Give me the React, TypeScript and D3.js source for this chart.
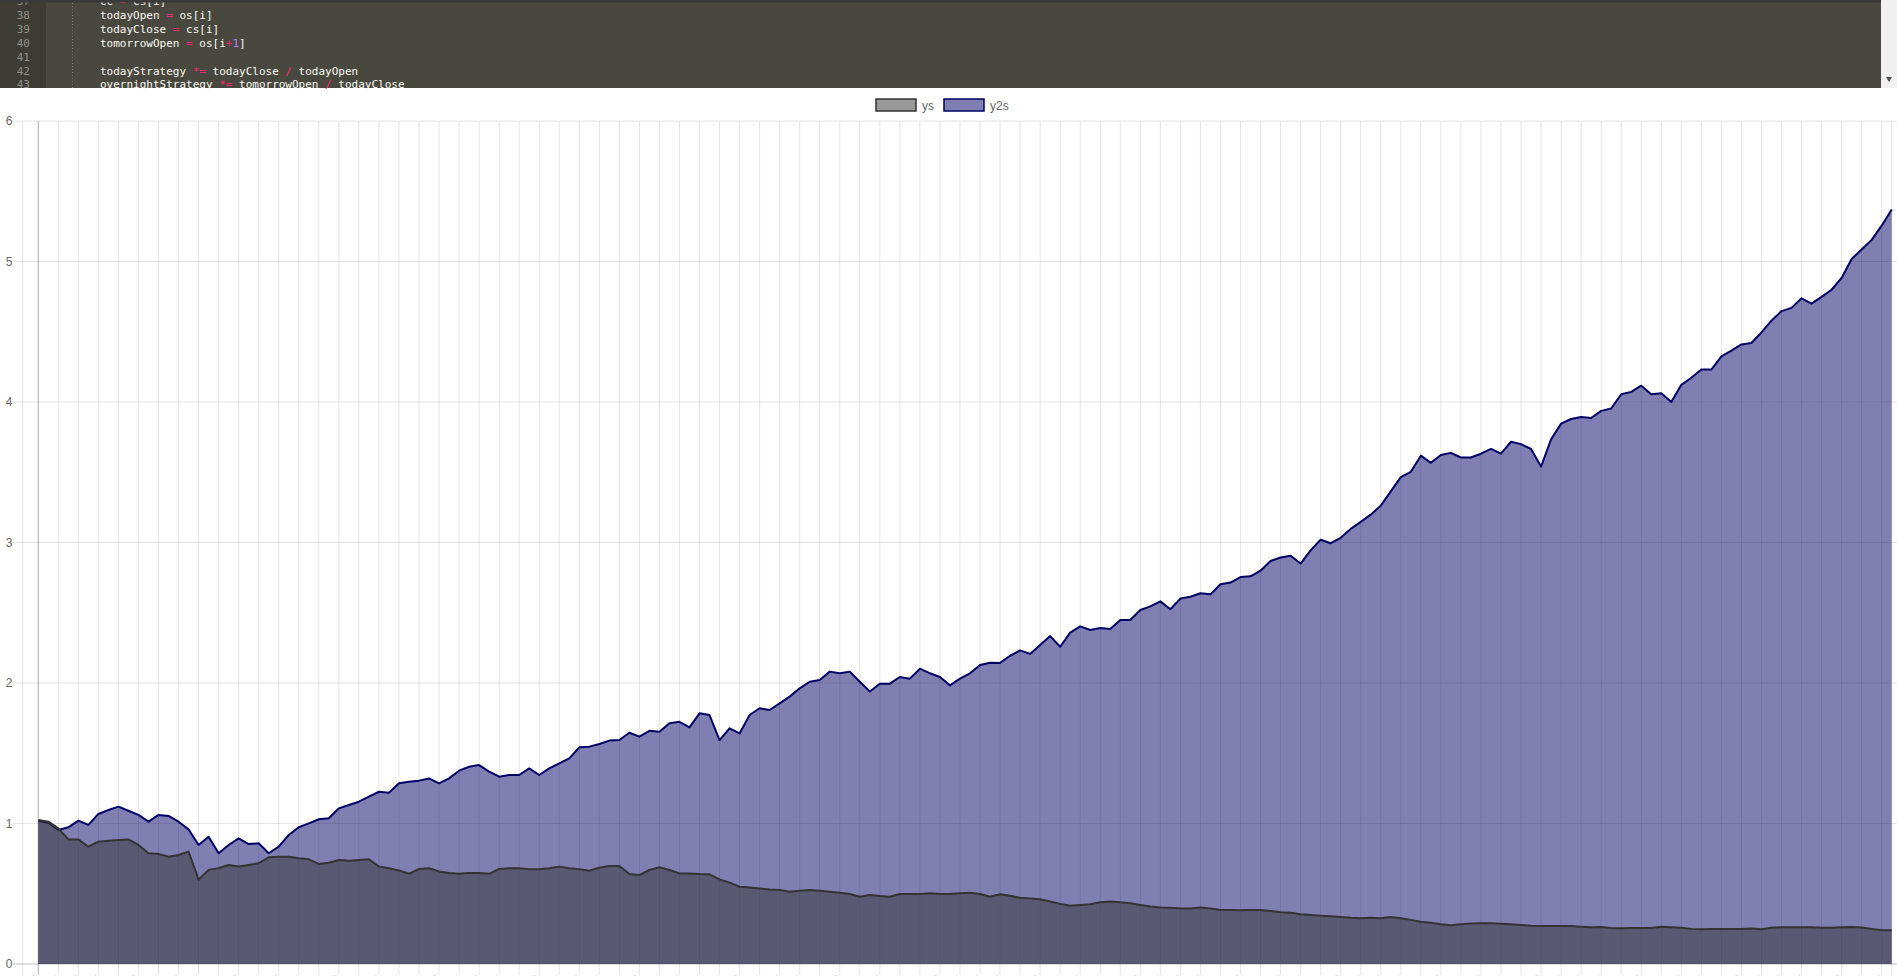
import * as d3 from 'd3';

// sampled values, roughly every 10px along the x axis
const y2sValues = [
  1.020, 1.006, 0.954, 0.973, 1.020, 0.990, 1.068, 1.096, 1.120, 1.091,
  1.061, 1.013, 1.061, 1.054, 1.013, 0.958, 0.847, 0.906, 0.788, 0.847,
  0.894, 0.854, 0.859, 0.788, 0.835, 0.918, 0.973, 1.001, 1.030, 1.037,
  1.108, 1.132, 1.155, 1.191, 1.226, 1.219, 1.286, 1.297, 1.305, 1.321,
  1.286, 1.321, 1.376, 1.404, 1.416, 1.369, 1.333, 1.345,
  1.345, 1.392, 1.345, 1.392, 1.428, 1.464, 1.542, 1.547, 1.566, 1.590,
  1.594, 1.646, 1.618, 1.660, 1.653, 1.713, 1.724, 1.684, 1.784, 1.772,
  1.594, 1.677, 1.641, 1.772, 1.820, 1.808, 1.855, 1.903, 1.962, 2.009,
  2.021, 2.081, 2.069, 2.081, 2.009, 1.940, 1.995, 1.995, 2.043, 2.031,
  2.102, 2.069, 2.043, 1.983, 2.031, 2.069, 2.128, 2.144,
  2.143, 2.194, 2.232, 2.207, 2.270, 2.334, 2.258, 2.359, 2.403, 2.377,
  2.392, 2.385, 2.448, 2.448, 2.520, 2.545, 2.581, 2.525, 2.601, 2.614,
  2.639, 2.631, 2.703, 2.715, 2.754, 2.759, 2.799, 2.868, 2.893, 2.906,
  2.850, 2.944, 3.020, 2.995, 3.033, 3.097, 3.147, 3.198, 3.262, 3.364,
  3.465, 3.503, 3.618, 3.567, 3.623, 3.638, 3.605, 3.605,
  3.632, 3.666, 3.632, 3.717, 3.700, 3.666, 3.540, 3.734, 3.846, 3.879,
  3.893, 3.886, 3.937, 3.954, 4.055, 4.072, 4.116, 4.055, 4.062, 4.000,
  4.122, 4.173, 4.231, 4.231, 4.325, 4.366, 4.410, 4.420, 4.495, 4.579,
  4.647, 4.670, 4.738, 4.700, 4.748, 4.799, 4.883, 5.018, 5.086, 5.154,
  5.255, 5.370,
];

const ysValues = [
  1.025, 1.013, 0.965, 0.887, 0.887, 0.835, 0.871, 0.878, 0.883, 0.887,
  0.847, 0.788, 0.783, 0.764, 0.776, 0.800, 0.600, 0.670, 0.682, 0.705,
  0.694, 0.705, 0.717, 0.759, 0.764, 0.764, 0.752, 0.745, 0.712, 0.721,
  0.740, 0.735, 0.740, 0.745, 0.694, 0.682, 0.666, 0.642, 0.676, 0.682,
  0.659, 0.647, 0.642, 0.647, 0.647, 0.642, 0.676, 0.682,
  0.681, 0.674, 0.674, 0.681, 0.693, 0.681, 0.674, 0.664, 0.686, 0.698,
  0.698, 0.640, 0.633, 0.669, 0.688, 0.669, 0.645, 0.645, 0.640, 0.638,
  0.602, 0.579, 0.550, 0.545, 0.538, 0.531, 0.526, 0.514, 0.521, 0.526,
  0.521, 0.514, 0.507, 0.498, 0.479, 0.491, 0.484, 0.479, 0.498, 0.498,
  0.498, 0.503, 0.498, 0.498, 0.503, 0.507, 0.498, 0.479,
  0.496, 0.486, 0.471, 0.466, 0.461, 0.445, 0.428, 0.415, 0.420, 0.425,
  0.440, 0.445, 0.440, 0.433, 0.420, 0.410, 0.402, 0.400, 0.395, 0.395,
  0.402, 0.395, 0.385, 0.385, 0.382, 0.385, 0.385, 0.377, 0.369, 0.364,
  0.354, 0.349, 0.344, 0.339, 0.334, 0.329, 0.326, 0.329, 0.326, 0.334,
  0.326, 0.314, 0.301, 0.294, 0.283, 0.276, 0.283, 0.288,
  0.290, 0.290, 0.286, 0.283, 0.278, 0.272, 0.270, 0.270, 0.270, 0.270,
  0.266, 0.262, 0.264, 0.256, 0.255, 0.256, 0.256, 0.257, 0.265, 0.262,
  0.258, 0.250, 0.248, 0.249, 0.249, 0.249, 0.249, 0.252, 0.248, 0.258,
  0.262, 0.262, 0.262, 0.262, 0.258, 0.258, 0.262, 0.264, 0.260, 0.250,
  0.240, 0.240,
];

const yTicks = [0, 1, 2, 3, 4, 5, 6];
const seriesNames = ['ys', 'y2s'];

// editor strip above the chart
type Tok = [string, 'id' | 'op' | 'num'];
const codeLines: { no: number; toks: Tok[] }[] = [
  { no: 37, toks: [['cc', 'id'], [' ', 'id'], ['=', 'op'], [' cs[i]', 'id']] },
  { no: 38, toks: [['todayOpen ', 'id'], ['=', 'op'], [' os[i]', 'id']] },
  { no: 39, toks: [['todayClose ', 'id'], ['=', 'op'], [' cs[i]', 'id']] },
  { no: 40, toks: [['tomorrowOpen ', 'id'], ['=', 'op'], [' os[i', 'id'], ['+', 'op'], ['1', 'num'], [']', 'id']] },
  { no: 41, toks: [] },
  { no: 42, toks: [['todayStrategy ', 'id'], ['*=', 'op'], [' todayClose ', 'id'], ['/', 'op'], [' todayOpen', 'id']] },
  { no: 43, toks: [['overnightStrategy ', 'id'], ['*=', 'op'], [' tomorrowOpen ', 'id'], ['/', 'op'], [' todayClose', 'id']] },
];

const tokColor = { id: '#f8f8f2', op: '#f92672', num: '#ae81ff' };

const W = 1897;
const H = 976;
const font = "'Helvetica Neue', Helvetica, Arial, 'Liberation Sans', sans-serif";
const mono = "'DejaVu Sans Mono', 'Liberation Mono', monospace";

const colors = {
  ys: { fill: 'rgba(51,51,51,0.5)', stroke: '#333333' },
  y2s: { fill: 'rgba(0,0,102,0.5)', stroke: '#000066' },
};

function CodeStrip() {
  const charW = 6.62;
  return (
    <g>
      <rect x={0} y={0} width={1881} height={88} fill="#49483e" />
      <rect x={0} y={0} width={46} height={88} fill="#3d3c34" />
      <line x1={72.5} x2={72.5} y1={0} y2={88} stroke="#75746a" strokeDasharray="1,2" />
      {codeLines.map((l, k) => {
        const base = 5 + k * 13.9;
        let col = 0;
        return (
          <g key={l.no} fontFamily={mono} fontSize={11}>
            <text x={30} y={base} textAnchor="end" fill="#8f908a">{l.no}</text>
            {l.toks.map((t, j) => {
              const el = (
                <text key={j} x={100 + col * charW} y={base} fill={tokColor[t[1]]}
                  style={{ whiteSpace: 'pre' }}>{t[0]}</text>
              );
              col += t[0].length;
              return el;
            })}
          </g>
        );
      })}
      <rect x={0} y={0} width={1881} height={2.5} fill="#3a3a3a" />
      <rect x={1881} y={0} width={16} height={88} fill="#f0f0f0" />
      <path d="M1886,77 L1892,77 L1889,82 Z" fill="#505050" />
    </g>
  );
}

export default function App() {
  const n = ysValues.length;
  const x = d3.scaleLinear().domain([0, n - 1]).range([38.3, 1891.7]);
  const y = d3.scaleLinear().domain([0, 6]).range([964, 121]);

  const area = d3.area<number>().x((_, i) => x(i)).y0(y(0)).y1(d => y(d));
  const line = d3.line<number>().x((_, i) => x(i)).y(d => y(d));

  const gridIdx = d3.range(0, n, 2);
  const labels = d3.range(n).map(i => String(i * 24));

  const legendX = [876, 944];

  return (
    <div style={{ position: 'fixed', left: 0, top: 0, width: W, height: H, background: '#fff' }}>
      <svg width={W} height={H} style={{ display: 'block' }}>
        <rect width={W} height={H} fill="#fff" />
        <CodeStrip />

        {/* legend */}
        {seriesNames.map((name, i) => {
          const c = colors[name as 'ys' | 'y2s'];
          return (
            <g key={name}>
              <rect x={legendX[i]} y={99} width={40} height={12} fill={c.fill} stroke={c.stroke} strokeWidth={1.5} />
              <text x={legendX[i] + 46} y={109.5} fontFamily={font} fontSize={12} fill="#666">{name}</text>
            </g>
          );
        })}

        {/* grid */}
        <line x1={22.7} x2={22.7} y1={121} y2={976} stroke="rgba(0,0,0,0.1)" />
        {gridIdx.map(i => (
          <line key={i} x1={x(i)} x2={x(i)} y1={121} y2={975} stroke="rgba(0,0,0,0.1)" />
        ))}
        <line x1={x(n - 1)} x2={x(n - 1)} y1={121} y2={975} stroke="rgba(0,0,0,0.1)" />
        {yTicks.map(t => (
          <g key={t}>
            <line x1={13} x2={W} y1={y(t)} y2={y(t)} stroke={t === 0 ? 'rgba(0,0,0,0.25)' : 'rgba(0,0,0,0.1)'} />
            <text x={12.5} y={y(t) + 4.3} textAnchor="end" fontFamily={font} fontSize={12} fill="#666">{t}</text>
          </g>
        ))}
        <line x1={38.3} x2={38.3} y1={121} y2={975} stroke="rgba(0,0,0,0.25)" />

        {/* x tick labels, mostly below the visible page */}
        {gridIdx.map(i => (
          <text key={i} transform={`translate(${x(i)},975.4) rotate(-90)`} textAnchor="end"
            fontFamily={font} fontSize={12} fill="#666">{labels[i]}</text>
        ))}

        {/* series: y2s underneath, ys on top */}
        <path d={area(y2sValues) || ''} fill={colors.y2s.fill} />
        <path d={line(y2sValues) || ''} fill="none" stroke={colors.y2s.stroke} strokeWidth={2} strokeLinejoin="round" />
        <path d={area(ysValues) || ''} fill={colors.ys.fill} />
        <path d={line(ysValues) || ''} fill="none" stroke={colors.ys.stroke} strokeWidth={2} strokeLinejoin="round" />
      </svg>
    </div>
  );
}
